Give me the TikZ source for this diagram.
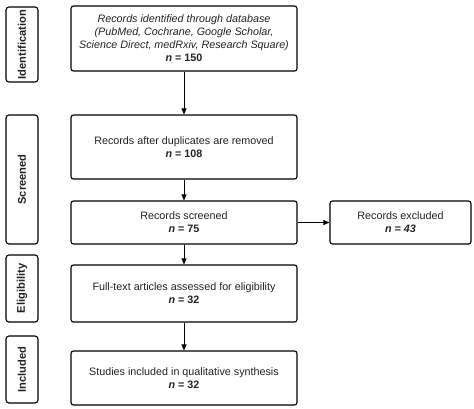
\documentclass[tikz,border=0pt]{standalone}
\usepackage{fontspec}
\setmainfont{Liberation Sans}
\usetikzlibrary{arrows.meta}
\definecolor{txt}{HTML}{222222}
\tikzset{
  x=1bp, y=-1bp,
  box/.style={draw=black, line width=1.1bp, rounded corners=2.5bp, align=center,
    text=txt, font=\fontsize{10.8}{13}\selectfont, inner sep=0pt},
  side/.style={draw=black, line width=1.1bp, rounded corners=3bp, minimum width=32bp,
    inner sep=0pt},
  sidetext/.style={rotate=90, text=txt, font=\fontsize{11.2}{13}\selectfont\bfseries},
  arr/.style={line width=0.9bp, -{Triangle[length=6bp,width=5bp]}}
}
\begin{document}
\begin{tikzpicture}
\useasboundingbox (0,0) rectangle (474,408);
% side labels
\node[side, minimum height=75bp] (s1) at (22,44.5) {};
\node[sidetext] (t1) at (s1.center) {Identification};
\node[side, minimum height=129bp] (s2) at (22,179.5) {};
\node[sidetext] (t2) at (s2.center) {Screened};
\node[side, minimum height=67bp] (s3) at (22,288.5) {};
\node[sidetext] (t3) at (s3.center) {Eligibility};
\node[side, minimum height=67bp] (s4) at (22,369.5) {};
\node[sidetext] (t4) at (s4.center) {Included};
% main boxes
\node[box, minimum width=226bp, minimum height=65bp] (b1) at (184,38.5)
  {\itshape Records identified through database\\
   \itshape (PubMed, Cochrane, Google Scholar,\\
   \itshape Science Direct, medRxiv, Research Square)\\
   \bfseries\itshape n\upshape\ = 150};
\node[box, minimum width=226bp, minimum height=64bp] (b2) at (184,147)
  {Records after duplicates are removed\\ \bfseries\itshape n\upshape\ = 108};
\node[box, minimum width=226bp, minimum height=43bp] (b3) at (184,222.5)
  {Records screened\\ \bfseries\itshape n\upshape\ = 75};
\node[box, minimum width=141bp, minimum height=43bp] (b6) at (400.5,222.5)
  {Records excluded\\ \bfseries\itshape n = 43};
\node[box, minimum width=226bp, minimum height=57bp] (b4) at (184,293.5)
  {Full-text articles assessed for eligibility\\ \bfseries\itshape n\upshape\ = 32};
\node[box, minimum width=226bp, minimum height=54bp] (b5) at (184,378)
  {Studies included in qualitative synthesis\\ \bfseries\itshape n\upshape\ = 32};
% connectors
\draw[arr] (b1) -- (b2);
\draw[arr] (b2) -- (b3);
\draw[arr] (b3) -- (b6);
\draw[arr] (b3) -- (b4);
\draw[arr] (b4) -- (b5);
\end{tikzpicture}
\end{document}
